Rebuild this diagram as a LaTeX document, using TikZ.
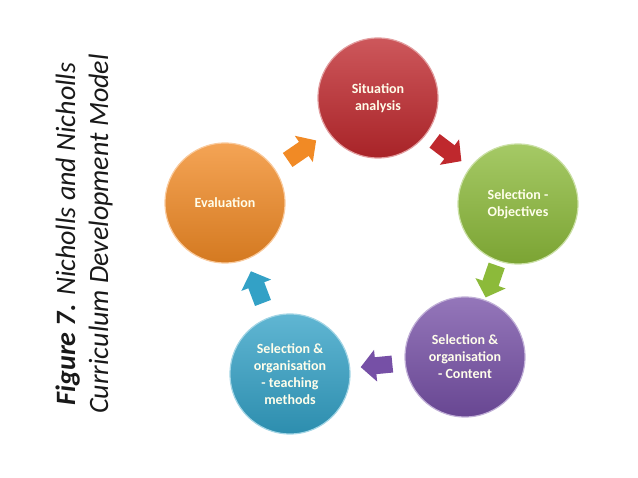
\documentclass[tikz,border=0pt]{standalone}
\usepackage{fontspec}
\setmainfont{Carlito}
\usetikzlibrary{arrows.meta}
\definecolor{sitred}{HTML}{BF282D}
\definecolor{objgreen}{HTML}{8CBA3A}
\definecolor{conpurple}{HTML}{7650A6}
\definecolor{metblue}{HTML}{33A1C6}
\definecolor{evalorange}{HTML}{F18A25}
\begin{document}
\begin{tikzpicture}[x=1pt, y=-1pt, line join=miter]
	\tikzset{every node/.style={font=\bfseries\fontsize{14}{17}\selectfont, text=white!92!yellow, align=center},
		stage/.style={circle, minimum size=120pt, inner sep=0pt, draw=#1!45!white, line width=1.2pt, top color=#1!78!white, bottom color=#1!88!black},
		blockarrow/.style={draw=#1, line cap=butt, line width=17pt, -{Triangle[width=31pt,length=15pt]}}}
	\useasboundingbox (0,0) rectangle (638,478);
	\node[stage=sitred] (sit) at (378,98) {Situation\\analysis};
	\node[stage=objgreen] (obj) at (518,204) {Selection -\\Objectives};
	\node[stage=conpurple] (con) at (465,357) {Selection \&\\organisation\\- Content};
	\node[stage=metblue] (met) at (290,374) {Selection \&\\organisation\\- teaching\\methods};
	\node[stage=evalorange] (eval) at (225,203) {Evaluation};
	% arrows between the stages
	\draw[blockarrow=sitred, shorten <=71pt, shorten >=71pt] (sit.center) -- (obj.center);
	\draw[blockarrow=objgreen, shorten <=65pt, shorten >=63pt] (obj.center) -- (con.center);
	\draw[blockarrow=conpurple, shorten <=73pt, shorten >=71pt] (con.center) -- (met.center);
	\draw[blockarrow=metblue, shorten <=76pt, shorten >=73pt] (met.center) -- (eval.center);
	\draw[blockarrow=evalorange, shorten <=76pt, shorten >=75pt] (eval.center) -- (sit.center);
	\node[rotate=90, font=\itshape\fontsize{28}{33}\selectfont, text=black!90] (cap) at (84,234) {\textbf{Figure 7.} Nicholls and Nicholls\\Curriculum Development Model};
\end{tikzpicture}
\end{document}
